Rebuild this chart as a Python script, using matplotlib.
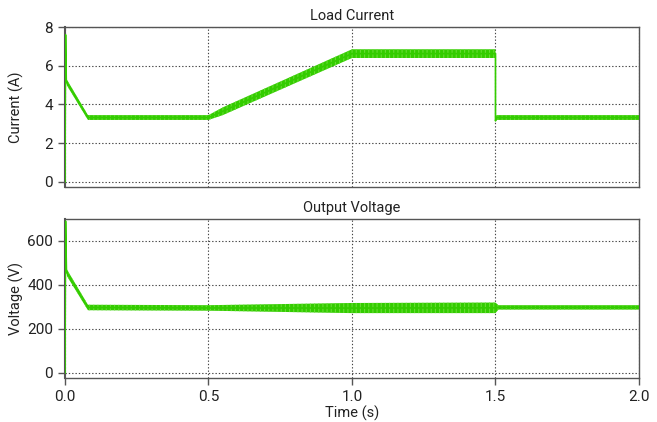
import matplotlib
matplotlib.use('Agg')
import matplotlib.pyplot as plt
import numpy as np

plt.rcParams['font.family'] = ['Roboto', 'DejaVu Sans']
plt.rcParams['hatch.linewidth'] = 0.8

# envelope of the switching ripple
cur_t = [0.0, 0.002, 0.0045, 0.006, 0.08, 0.5, 0.55, 1.0, 1.5, 1.5, 1.503, 2.0]
cur_lo = [0.0, 7.6, 5.25, 5.0, 3.2, 3.2, 3.45, 6.4, 6.4, 3.15, 3.2, 3.2]
cur_hi = [0.0, 7.6, 5.25, 5.3, 3.45, 3.45, 3.85, 6.85, 6.85, 3.15, 3.45, 3.45]

volt_t = [0.0, 0.002, 0.005, 0.007, 0.08, 0.5, 1.0, 1.5, 1.51, 2.0]
volt_lo = [0.0, 690, 470, 440, 285, 283, 272, 272, 288, 288]
volt_hi = [0.0, 690, 470, 470, 310, 308, 318, 320, 308, 308]

xticks = [0.0, 0.5, 1.0, 1.5, 2.0]
cur_yticks = [0, 2, 4, 6, 8]
volt_yticks = [0, 200, 400, 600]

green = '#33cc00'
edge = '#555555'
txt = '#222222'

fig = plt.figure(figsize=(6.57, 4.22), dpi=100)
ax1 = fig.add_axes([0.0989, 0.557, 0.8737, 0.379])
ax2 = fig.add_axes([0.0989, 0.1043, 0.8737, 0.3768])


def trace(ax, t, lo, hi):
    t = np.array(t)
    lo = np.array(lo, dtype=float)
    hi = np.array(hi, dtype=float)
    ax.fill_between(t, lo, hi, facecolor=green, edgecolor='#66dd33',
                    hatch='||||', linewidth=0, zorder=3)
    ax.plot(t, (lo + hi) / 2, color=green, lw=1.2, zorder=4)


trace(ax1, cur_t, cur_lo, cur_hi)
trace(ax2, volt_t, volt_lo, volt_hi)

for ax in (ax1, ax2):
    ax.set_xlim(0, 2)
    ax.set_xticks(xticks)
    ax.grid(True, linestyle=(0, (1.2, 1.8)), color='#444444', linewidth=0.8)
    for s in ax.spines.values():
        s.set_color(edge)
        s.set_linewidth(1.0)
    ax.spines['left'].set_linewidth(1.5)
    ax.tick_params(colors=edge, labelcolor=txt, labelsize=11,
                   length=5, width=1.0)

ax1.set_ylim(-0.26, 8)
ax1.set_yticks(cur_yticks)
ax1.tick_params(axis='x', length=0, labelbottom=False)
ax1.set_ylabel('Current (A)', fontsize=10.5, color=txt)
ax1.yaxis.set_label_coords(-0.071, 0.5)
ax1.set_title('Load Current', fontsize=10.5, color=txt, pad=5)

ax2.set_ylim(-23, 700)
ax2.set_yticks(volt_yticks)
ax2.set_xticklabels(['%.1f' % x for x in xticks])
ax2.set_ylabel('Voltage (V)', fontsize=10.5, color=txt)
ax2.yaxis.set_label_coords(-0.071, 0.5)
ax2.set_title('Output Voltage', fontsize=10.5, color=txt, pad=5)
ax2.set_xlabel('Time (s)', fontsize=10.5, color=txt, labelpad=1)

fig.savefig('out.png', dpi=100)
